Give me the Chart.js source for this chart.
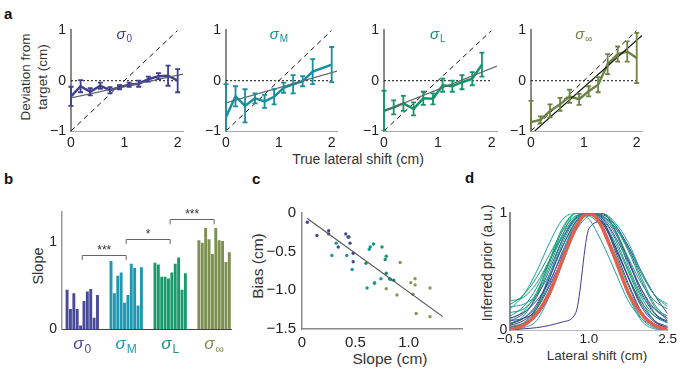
<!DOCTYPE html>
<html>
<head>
<meta charset="utf-8">
<script src="https://cdn.jsdelivr.net/npm/chart.js@4.4.1/dist/chart.umd.min.js"></script>
<style>
  body { margin: 0; background: #fff; width: 685px; height: 370px; overflow: hidden; position: relative;
         font-family: "Liberation Sans", Arial, sans-serif; }
  canvas { position: absolute; }
  .lbl { position: absolute; color: #333; white-space: nowrap; font-size: 14px; transform: translate(-50%, -50%); }
  .rot { transform: translate(-50%, -50%) rotate(-90deg); }
  .panel { position: absolute; font-weight: bold; font-size: 15px; line-height: 15px; color: #111; }
</style>
</head>
<body>
<div class="panel" style="left:4px;top:6px">a</div>
<div class="panel" style="left:4px;top:171px">b</div>
<div class="panel" style="left:252px;top:171px">c</div>
<div class="panel" style="left:465px;top:170px">d</div>

<div class="lbl rot" style="left:25px;top:77px;font-size:13.5px">Deviation from</div>
<div class="lbl rot" style="left:42px;top:77px;font-size:13.5px">target (cm)</div>
<div class="lbl" style="left:358px;top:159px">True lateral shift (cm)</div>
<div class="lbl rot" style="left:38px;top:266px;font-size:14.5px">Slope</div>
<div class="lbl rot" style="left:258px;top:266px;font-size:15.5px">Bias (cm)</div>
<div class="lbl" style="left:390px;top:359px;font-size:15.5px">Slope (cm)</div>
<div class="lbl rot" style="left:487px;top:263px;font-size:14px">Inferred prior (a.u.)</div>
<div class="lbl" style="left:597px;top:355px;font-size:13.5px">Lateral shift (cm)</div>

<script>
// ---- panel a : deviation vs true shift ----
const shiftX = [0, 0.18, 0.36, 0.55, 0.73, 0.91, 1.09, 1.27, 1.45, 1.64, 1.82, 2.0];
const devS0 = [-0.31, -0.11, -0.22, -0.10, -0.19, -0.13, -0.08, -0.06, 0.03, 0.09, 0.10, 0.0];
const errS0 = [0.19, 0.12, 0.07, 0.06, 0.06, 0.04, 0.04, 0.06, 0.05, 0.06, 0.20, 0.23];
const devSM = [-0.72, -0.31, -0.50, -0.35, -0.41, -0.32, -0.14, -0.07, -0.01, 0.18, null, 0.32];
const errSM = [0.65, 0.20, 0.33, 0.10, 0.13, 0.15, 0.10, 0.18, 0.10, 0.25, null, 0.35];
const devSL = [-0.60, -0.53, -0.45, -0.56, -0.35, -0.36, -0.09, -0.11, -0.03, 0.04, 0.32, null];
const errSL = [0.40, 0.14, 0.15, 0.13, 0.13, 0.11, 0.13, 0.11, 0.14, 0.13, 0.24, null];
const devSInf = [-0.82, -0.78, -0.60, -0.47, -0.31, -0.37, -0.21, -0.08, 0.33, 0.53, 0.58, 0.45];
const errSInf = [0.42, 0.07, 0.13, 0.13, 0.13, 0.11, 0.10, 0.15, 0.20, 0.15, 0.20, 0.50];
const fitStartX = [0, 0, 0, 0.07];
const fitStartY = [-0.34, -0.44, -0.60, -1.0];
const fitEndX = [2.1, 2.1, 2.1, 2.1];
const fitEndY = [0.13, 0.19, 0.29, 0.90];

// ---- panel b : slopes per subject ----
const slopeS0 = [0.45, 0.23, 0.41, 0.23, 0.04, 0.32, 0.43, 0.46, 0.13, 0.39];
const slopeSM = [0.78, 0.41, 0.61, 0.65, 0.30, 0.39, 0.75, 0.70, 0.27, 0.71];
const slopeSL = [0.76, 0.74, 0.60, 0.60, 0.58, 0.65, 0.75, 0.82, 0.45, 0.64];
const slopeSInf = [1.02, 0.99, 1.16, 1.03, 0.86, 1.16, 1.02, 1.01, 0.77, 0.88];
const groupSubs = ['0', 'M', 'L', '∞'];
const bracketFrom = [0, 1, 2];
const bracketTo = [1, 2, 3];
const bracketLevel = [0.85, 1.035, 1.26];
const bracketStars = ['***', '*', '***'];

// ---- panel c : bias vs slope ----
const biasS0X = [0.05, 0.14, 0.25, 0.25, 0.34, 0.41, 0.45, 0.48, 0.48, 0.44];
const biasS0Y = [-0.12, -0.29, -0.23, -0.27, -0.44, -0.27, -0.39, -0.52, -0.63, -0.31];
const biasSMX = [0.28, 0.32, 0.43, 0.42, 0.47, 0.61, 0.74, 0.83, 0.68, 0.63];
const biasSMY = [-0.55, -0.39, -0.31, -0.55, -0.73, -0.97, -0.85, -0.86, -0.90, -0.47];
const biasSLX = [0.60, 0.64, 0.67, 0.75, 0.79, 0.78, 0.79, 0.82, 0.86, 0.68];
const biasSLY = [-0.65, -0.44, -0.40, -0.44, -0.56, -0.60, -0.78, -0.85, -0.87, -0.91];
const biasSInfX = [0.79, 0.92, 0.89, 1.02, 1.06, 1.06, 1.04, 1.07, 1.20, 1.20];
const biasSInfY = [-0.98, -0.64, -1.06, -0.90, -0.85, -0.93, -1.05, -1.30, -0.97, -1.34];
const biasFitX = [0.05, 1.32];
const biasFitY = [-0.07, -1.34];

// ---- panel d : inferred priors ----
const priorX = [-0.5, -0.25, 0, 0.25, 0.5, 0.75, 1.0, 1.25, 1.5, 1.75, 2.0, 2.25, 2.5];
const inferredPriors = [
  [0.22, 0.30, 0.45, 0.65, 0.85, 0.98, 1.00, 0.98, 0.85, 0.62, 0.40, 0.25, 0.18],
  [0.12, 0.20, 0.36, 0.60, 0.82, 0.97, 1.00, 0.95, 0.78, 0.52, 0.28, 0.12, 0.06],
  [0.05, 0.10, 0.22, 0.45, 0.72, 0.93, 1.00, 0.92, 0.70, 0.45, 0.22, 0.08, 0.03],
  [0.15, 0.18, 0.30, 0.55, 0.82, 1.00, 1.00, 1.00, 0.85, 0.55, 0.30, 0.18, 0.12],
  [0.00, 0.01, 0.02, 0.04, 0.07, 0.15, 0.87, 0.93, 0.68, 0.40, 0.16, 0.05, 0.02],
  [0.00, 0.02, 0.08, 0.30, 0.65, 0.93, 1.00, 0.90, 0.60, 0.30, 0.08, 0.01, 0.00],
  [0.08, 0.14, 0.28, 0.52, 0.78, 0.96, 1.00, 0.97, 0.83, 0.60, 0.35, 0.15, 0.07],
  [0.03, 0.06, 0.15, 0.35, 0.60, 0.85, 0.98, 1.00, 0.90, 0.70, 0.45, 0.22, 0.10],
  [0.18, 0.30, 0.50, 0.75, 0.95, 1.00, 0.95, 0.75, 0.50, 0.25, 0.10, 0.04, 0.02],
  [0.10, 0.15, 0.25, 0.42, 0.66, 0.90, 1.00, 0.96, 0.80, 0.58, 0.35, 0.18, 0.10],
  [0.05, 0.12, 0.30, 0.60, 0.88, 1.00, 0.98, 0.88, 0.65, 0.38, 0.15, 0.05, 0.00],
  [0.02, 0.05, 0.12, 0.30, 0.58, 0.86, 1.00, 0.94, 0.72, 0.45, 0.20, 0.07, 0.02],
  [0.20, 0.22, 0.30, 0.48, 0.72, 0.92, 1.00, 1.00, 0.92, 0.75, 0.50, 0.30, 0.20],
  [0.00, 0.04, 0.18, 0.45, 0.75, 0.95, 1.00, 0.93, 0.75, 0.50, 0.25, 0.08, 0.00],
  [0.06, 0.10, 0.20, 0.40, 0.68, 0.90, 1.00, 0.98, 0.88, 0.68, 0.42, 0.20, 0.08],
  [0.04, 0.08, 0.18, 0.38, 0.62, 0.88, 1.00, 0.99, 0.90, 0.72, 0.50, 0.30, 0.14],
  [0.25, 0.28, 0.40, 0.60, 0.80, 0.95, 1.00, 0.97, 0.88, 0.70, 0.48, 0.30, 0.22],
  [0.02, 0.06, 0.20, 0.48, 0.78, 0.97, 1.00, 0.90, 0.62, 0.32, 0.10, 0.02, 0.00],
  [0.08, 0.10, 0.16, 0.33, 0.60, 0.88, 1.00, 1.00, 0.86, 0.60, 0.32, 0.14, 0.06],
  [0.10, 0.16, 0.32, 0.58, 0.86, 1.00, 1.00, 0.92, 0.72, 0.46, 0.24, 0.12, 0.08]
];
const truePriorX = [-0.5, -0.375, -0.25, -0.125, 0, 0.125, 0.25, 0.375, 0.5, 0.625, 0.75, 0.875, 1.0,
                    1.125, 1.25, 1.375, 1.5, 1.625, 1.75, 1.875, 2.0, 2.125, 2.25, 2.375, 2.5];
const truePriorY = [0.01, 0.02, 0.04, 0.08, 0.14, 0.22, 0.32, 0.46, 0.61, 0.75, 0.88, 0.97, 1.0,
                    0.97, 0.88, 0.75, 0.61, 0.46, 0.32, 0.22, 0.14, 0.08, 0.04, 0.02, 0.01];

// colours
const lineCols = ['#3f3e90', '#168f9f', '#16946a', '#6e8444'];
const barCols = ['#4a4a9c', '#1f99b2', '#199a6b', '#7d9050'];
const dotCols = ['#4a4796', '#1a96a8', '#139468', '#8c9655'];
const priorCols = ['#1d9a78', '#1a8fa3', '#3f3c92', '#20a070', '#403a95', '#2aa0a8', '#2d5f9e', '#169070',
                   '#1ea0a0', '#46439a', '#1d9a6a', '#2a3f80', '#24a0b0', '#159a5e', '#2a7aa8', '#3a3a8c',
                   '#22a27a', '#1b8a9c', '#353a88', '#19a068'];

Chart.defaults.font.family = '"Liberation Sans", Arial, sans-serif';
Chart.defaults.color = '#222';

const minus = v => (v < 0 ? '\u2212' + Math.abs(v) : '' + v);

function makeCanvas(L, T, R, B, yW, xH, padT, padR) {
  const c = document.createElement('canvas');
  const left = L - yW, top = T - padT;
  const w = Math.round(R + padR - left), h = Math.round(B + xH - top);
  c.width = w; c.height = h;
  c.style.left = left + 'px'; c.style.top = top + 'px';
  c.style.width = w + 'px'; c.style.height = h + 'px';
  document.body.appendChild(c);
  return c;
}

function drawSigma(ctx, cx, cy, sub, color, size) {
  ctx.save();
  ctx.fillStyle = color;
  ctx.textBaseline = 'alphabetic';
  ctx.textAlign = 'left';
  ctx.font = 'italic ' + size + 'px "Liberation Sans", Arial';
  const w1 = ctx.measureText('σ').width;
  const subSize = Math.round(size * 0.68);
  ctx.font = subSize + 'px "Liberation Sans", Arial';
  const w2 = ctx.measureText(sub).width;
  const x0 = cx - (w1 + w2 + 1) / 2;
  const base = cy + size * 0.26;
  ctx.font = 'italic ' + size + 'px "Liberation Sans", Arial';
  ctx.fillText('σ', x0, base);
  ctx.font = subSize + 'px "Liberation Sans", Arial';
  ctx.fillText(sub, x0 + w1 + 1, base + size * 0.22);
  ctx.restore();
}

const errorBars = {
  id: 'errorBars',
  afterDatasetsDraw(chart) {
    const { ctx, chartArea, scales: { x, y } } = chart;
    chart.data.datasets.forEach(ds => {
      if (!ds.errors) return;
      ctx.save();
      ctx.beginPath();
      ctx.rect(chartArea.left - 5, chartArea.top - 2, chartArea.right - chartArea.left + 10, chartArea.bottom - chartArea.top + 2);
      ctx.clip();
      ctx.strokeStyle = ds.borderColor;
      ctx.lineWidth = 1.8;
      ds.data.forEach((p, i) => {
        const e = ds.errors[i];
        if (p.y == null || e == null) return;
        const px = x.getPixelForValue(p.x);
        const top = y.getPixelForValue(p.y + e), bot = y.getPixelForValue(p.y - e);
        ctx.beginPath();
        ctx.moveTo(px, top); ctx.lineTo(px, bot);
        ctx.moveTo(px - 2.5, top); ctx.lineTo(px + 2.5, top);
        ctx.moveTo(px - 2.5, bot); ctx.lineTo(px + 2.5, bot);
        ctx.stroke();
      });
      ctx.restore();
    });
  }
};

const sigmaTitle = {
  id: 'sigmaTitle',
  afterDraw(chart, args, opts) {
    const { x, y } = chart.scales;
    drawSigma(chart.ctx, x.getPixelForValue(1.0), y.getPixelForValue(0.91), opts.sub, opts.color, 15);
  }
};

const baseOpts = (padT, padR) => ({
  responsive: false, animation: false, devicePixelRatio: 1,
  layout: { padding: { top: padT, right: padR, left: 0, bottom: 0 } },
  plugins: { legend: { display: false }, tooltip: { enabled: false } }
});

const setTicks = vals => s => { s.ticks = vals.map(v => ({ value: v })); };

// ---- draw panel a ----
const devA = [devS0, devSM, devSL, devSInf];
const errA = [errS0, errSM, errSL, errSInf];
const axisLeftA = [71, 226, 384, 531];
const spanA = [107, 106, 108, 106];

devA.forEach((dev, i) => {
  const L = axisLeftA[i], R = L + spanA[i] * 2.1 / 2;
  const opts = baseOpts(10, 4);
  opts.plugins.sigmaTitle = { sub: groupSubs[i], color: lineCols[i] };
  opts.scales = {
    x: {
      type: 'linear', min: 0, max: 2.1,
      afterBuildTicks: setTicks([0, 1, 2]),
      afterFit: s => { s.height = 26; },
      grid: { display: false, drawTicks: false },
      border: { color: '#aaa', width: 1 },
      ticks: { padding: 4, color: '#222', font: { size: 14 }, callback: minus }
    },
    y: {
      type: 'linear', min: -1, max: 1,
      afterBuildTicks: setTicks([-1, 0, 1]),
      afterFit: s => { s.width = 32; },
      grid: { display: false, drawTicks: false },
      border: { color: '#8a8a8a', width: 2 },
      ticks: { padding: 5, color: '#222', font: { size: 14 }, callback: minus }
    }
  };
  new Chart(makeCanvas(L, 27, R, 131, 32, 26, 10, 4), {
    type: 'scatter',
    data: {
      datasets: [
        { data: [{ x: fitStartX[i], y: fitStartY[i] }, { x: fitEndX[i], y: fitEndY[i] }],
          showLine: true, borderColor: i === 3 ? '#111' : '#666', borderWidth: 1.2, pointRadius: 0 },
        { data: shiftX.map((x, j) => ({ x: x, y: dev[j] })), errors: errA[i],
          showLine: true, spanGaps: true, borderColor: lineCols[i], borderWidth: 2.5, pointRadius: 0 },
        { data: [{ x: 0, y: -1 }, { x: 2, y: 1 }], showLine: true, borderColor: '#111', borderWidth: 1,
          borderDash: [5, 4], pointRadius: 0 },
        { data: [{ x: 0, y: 0 }, { x: 2, y: 0 }], showLine: true, borderColor: '#111', borderWidth: 1,
          borderDash: [2, 2], pointRadius: 0 }
      ]
    },
    options: opts,
    plugins: [errorBars, sigmaTitle]
  });
});

// ---- draw panel b ----
const slopeGroups = [slopeS0, slopeSM, slopeSL, slopeSInf];
const barLabels = [''], barValues = [null], barColors = ['#fff'];
const groupStarts = [];
slopeGroups.forEach((g, k) => {
  groupStarts.push(barValues.length);
  g.forEach(v => { barLabels.push(''); barValues.push(v); barColors.push(barCols[k]); });
  if (k < slopeGroups.length - 1) {
    for (let j = 0; j < 3; j++) { barLabels.push(''); barValues.push(null); barColors.push('#fff'); }
  }
});

const panelBDecor = {
  id: 'panelBDecor',
  afterDraw(chart) {
    const { ctx, chartArea, scales: { x, y } } = chart;
    const centers = groupStarts.map(s => (x.getPixelForValue(s) + x.getPixelForValue(s + 9)) / 2);
    groupSubs.forEach((sub, k) => drawSigma(ctx, centers[k], chartArea.bottom + 16, sub, barCols[k], 17));
    ctx.save();
    ctx.strokeStyle = '#666';
    ctx.lineWidth = 1;
    ctx.fillStyle = '#333';
    ctx.font = '12px "Liberation Sans", Arial';
    ctx.textAlign = 'center';
    ctx.textBaseline = 'alphabetic';
    bracketFrom.forEach((a, i) => {
      const x1 = centers[a], x2 = centers[bracketTo[i]];
      const yy = Math.round(y.getPixelForValue(bracketLevel[i])) + 0.5;
      const yl = y.getPixelForValue(bracketLevel[i] - 0.06);
      ctx.beginPath();
      ctx.moveTo(x1, yl); ctx.lineTo(x1, yy); ctx.lineTo(x2, yy); ctx.lineTo(x2, yl);
      ctx.stroke();
      ctx.fillText(bracketStars[i], (x1 + x2) / 2, yy - 2);
    });
    ctx.restore();
  }
};

(function () {
  const opts = baseOpts(4, 4);
  opts.scales = {
    x: {
      type: 'category',
      afterFit: s => { s.height = 30; },
      grid: { display: false, drawTicks: false },
      border: { color: '#444', width: 1 },
      ticks: { display: false }
    },
    y: {
      type: 'linear', min: 0, max: 1.35,
      afterBuildTicks: setTicks([0, 1]),
      afterFit: s => { s.width = 28; },
      grid: { display: false, drawTicks: false },
      border: { color: '#999', width: 1.5 },
      ticks: { padding: 5, color: '#222', font: { size: 14 } }
    }
  };
  new Chart(makeCanvas(62, 202, 231, 329, 28, 30, 4, 4), {
    type: 'bar',
    data: {
      labels: barLabels,
      datasets: [{ data: barValues, backgroundColor: barColors, borderWidth: 0,
                   barPercentage: 0.86, categoryPercentage: 1.0 }]
    },
    options: opts,
    plugins: [panelBDecor]
  });
})();

// ---- draw panel c ----
(function () {
  const xs = [biasS0X, biasSMX, biasSLX, biasSInfX];
  const ys = [biasS0Y, biasSMY, biasSLY, biasSInfY];
  const datasets = [
    { data: biasFitX.map((x, j) => ({ x: x, y: biasFitY[j] })), showLine: true,
      borderColor: '#555', borderWidth: 1.2, pointRadius: 0 }
  ];
  xs.forEach((gx, k) => {
    datasets.push({ data: gx.map((x, j) => ({ x: x, y: ys[k][j] })), pointRadius: 1.7,
                    backgroundColor: dotCols[k], borderWidth: 0 });
  });
  const opts = baseOpts(6, 6);
  opts.scales = {
    x: {
      type: 'linear', min: 0, max: 1.5,
      afterBuildTicks: setTicks([0, 0.5, 1, 1.5]),
      afterFit: s => { s.height = 22; },
      grid: { display: false, drawTicks: false },
      border: { color: '#8a8a8a', width: 1.5 },
      ticks: { padding: 5, color: '#222', font: { size: 15 },
               callback: v => (v === 1.5 ? '' : v === 0 ? '0' : v.toFixed(1)) }
    },
    y: {
      type: 'linear', min: -1.5, max: 0,
      afterBuildTicks: setTicks([-1.5, -1, -0.5, 0]),
      afterFit: s => { s.width = 46; },
      grid: { display: false, drawTicks: false },
      border: { color: '#8a8a8a', width: 1.5 },
      ticks: { padding: 6, color: '#222', font: { size: 15 },
               callback: v => (v === 0 ? '0' : '\u2212' + Math.abs(v).toFixed(1)) }
    }
  };
  new Chart(makeCanvas(302, 204, 462, 329, 46, 22, 6, 6), {
    type: 'scatter', data: { datasets: datasets }, options: opts
  });
})();

// ---- draw panel d ----
(function () {
  const datasets = [
    { data: truePriorX.map((x, j) => ({ x: x, y: truePriorY[j] })), showLine: true,
      borderColor: '#e2604c', borderWidth: 3.5, pointRadius: 0, cubicInterpolationMode: 'monotone' }
  ];
  inferredPriors.forEach((c, k) => {
    datasets.push({ data: priorX.map((x, j) => ({ x: x, y: c[j] })), showLine: true,
                    borderColor: priorCols[k % priorCols.length], borderWidth: 1, pointRadius: 0,
                    cubicInterpolationMode: 'monotone' });
  });
  const opts = baseOpts(4, 6);
  opts.scales = {
    x: {
      type: 'linear', min: -0.5, max: 2.5,
      afterBuildTicks: setTicks([-0.5, 1, 2.5]),
      afterFit: s => { s.height = 20; },
      grid: { display: false, drawTicks: false },
      border: { color: '#bbb', width: 1 },
      ticks: { padding: 1, color: '#222', font: { size: 13.5 },
               callback: v => (v < 0 ? '\u2212' : '') + Math.abs(v).toFixed(1) }
    },
    y: {
      type: 'linear', min: 0, max: 1,
      afterBuildTicks: setTicks([0, 1]),
      afterFit: s => { s.width = 14; },
      grid: { display: false, drawTicks: false },
      border: { color: '#8a8a8a', width: 2 },
      ticks: { padding: 3, color: '#222', font: { size: 14 } }
    }
  };
  new Chart(makeCanvas(510, 206, 672, 330, 14, 20, 4, 6), {
    type: 'scatter', data: { datasets: datasets }, options: opts
  });
})();
</script>
</body>
</html>
